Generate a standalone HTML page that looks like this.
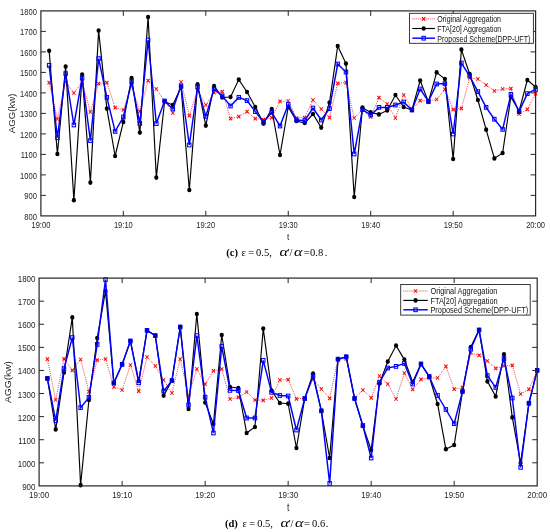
<!DOCTYPE html>
<html><head><meta charset="utf-8"><title>Aggregation comparison</title>
<style>
html,body{margin:0;padding:0;background:#fff;}
svg{display:block;font-family:"Liberation Sans",Arial,sans-serif;}
.cp{font-family:"Liberation Serif","DejaVu Serif",serif;font-size:10.5px;fill:#000;}
</style></head><body>
<svg width="550" height="532" viewBox="0 0 550 532">
<rect width="550" height="532" fill="#fff"/>
<g>
<polyline points="49.14,82.60 57.39,119.00 65.64,81.60 73.88,93.00 82.12,82.00 90.37,112.00 98.62,83.60 106.86,82.60 115.11,107.60 123.35,110.00 131.59,86.00 139.84,111.40 148.09,80.60 156.33,89.00 164.58,101.00 172.82,113.00 181.07,82.00 189.31,115.60 197.56,89.80 205.80,105.00 214.05,92.60 222.29,91.60 230.54,118.60 238.78,116.60 247.03,111.60 255.27,118.60 263.52,119.60 271.76,117.60 280.00,101.40 288.25,101.00 296.50,118.00 304.74,117.60 312.99,100.00 321.23,109.00 329.48,117.60 337.72,83.40 345.97,82.60 354.21,118.00 362.46,110.00 370.70,117.00 378.94,97.60 387.19,104.00 395.44,118.00 403.68,95.00 411.93,109.00 420.17,100.60 428.42,100.60 436.66,99.50 444.91,89.40 453.15,109.60 461.40,108.40 469.64,78.00 477.89,79.00 486.13,85.00 494.38,91.00 502.62,89.00 510.87,88.60 519.11,114.00 527.36,109.40 535.60,93.60" fill="none" stroke="#ff0000" stroke-width="0.75" stroke-dasharray="1 1"/>
<path d="M47.54 80.85L50.74 84.35M47.54 84.35L50.74 80.85" stroke="#ff0000" stroke-width="1.05" fill="none"/>
<path d="M55.79 117.25L58.99 120.75M55.79 120.75L58.99 117.25" stroke="#ff0000" stroke-width="1.05" fill="none"/>
<path d="M64.04 79.85L67.23 83.35M64.04 83.35L67.23 79.85" stroke="#ff0000" stroke-width="1.05" fill="none"/>
<path d="M72.28 91.25L75.48 94.75M72.28 94.75L75.48 91.25" stroke="#ff0000" stroke-width="1.05" fill="none"/>
<path d="M80.53 80.25L83.72 83.75M80.53 83.75L83.72 80.25" stroke="#ff0000" stroke-width="1.05" fill="none"/>
<path d="M88.77 110.25L91.97 113.75M88.77 113.75L91.97 110.25" stroke="#ff0000" stroke-width="1.05" fill="none"/>
<path d="M97.02 81.85L100.22 85.35M97.02 85.35L100.22 81.85" stroke="#ff0000" stroke-width="1.05" fill="none"/>
<path d="M105.26 80.85L108.46 84.35M105.26 84.35L108.46 80.85" stroke="#ff0000" stroke-width="1.05" fill="none"/>
<path d="M113.51 105.85L116.71 109.35M113.51 109.35L116.71 105.85" stroke="#ff0000" stroke-width="1.05" fill="none"/>
<path d="M121.75 108.25L124.95 111.75M121.75 111.75L124.95 108.25" stroke="#ff0000" stroke-width="1.05" fill="none"/>
<path d="M130.00 84.25L133.19 87.75M130.00 87.75L133.19 84.25" stroke="#ff0000" stroke-width="1.05" fill="none"/>
<path d="M138.24 109.65L141.44 113.15M138.24 113.15L141.44 109.65" stroke="#ff0000" stroke-width="1.05" fill="none"/>
<path d="M146.49 78.85L149.69 82.35M146.49 82.35L149.69 78.85" stroke="#ff0000" stroke-width="1.05" fill="none"/>
<path d="M154.73 87.25L157.93 90.75M154.73 90.75L157.93 87.25" stroke="#ff0000" stroke-width="1.05" fill="none"/>
<path d="M162.98 99.25L166.18 102.75M162.98 102.75L166.18 99.25" stroke="#ff0000" stroke-width="1.05" fill="none"/>
<path d="M171.22 111.25L174.42 114.75M171.22 114.75L174.42 111.25" stroke="#ff0000" stroke-width="1.05" fill="none"/>
<path d="M179.47 80.25L182.67 83.75M179.47 83.75L182.67 80.25" stroke="#ff0000" stroke-width="1.05" fill="none"/>
<path d="M187.71 113.85L190.91 117.35M187.71 117.35L190.91 113.85" stroke="#ff0000" stroke-width="1.05" fill="none"/>
<path d="M195.96 88.05L199.16 91.55M195.96 91.55L199.16 88.05" stroke="#ff0000" stroke-width="1.05" fill="none"/>
<path d="M204.20 103.25L207.40 106.75M204.20 106.75L207.40 103.25" stroke="#ff0000" stroke-width="1.05" fill="none"/>
<path d="M212.45 90.85L215.65 94.35M212.45 94.35L215.65 90.85" stroke="#ff0000" stroke-width="1.05" fill="none"/>
<path d="M220.69 89.85L223.89 93.35M220.69 93.35L223.89 89.85" stroke="#ff0000" stroke-width="1.05" fill="none"/>
<path d="M228.94 116.85L232.14 120.35M228.94 120.35L232.14 116.85" stroke="#ff0000" stroke-width="1.05" fill="none"/>
<path d="M237.18 114.85L240.38 118.35M237.18 118.35L240.38 114.85" stroke="#ff0000" stroke-width="1.05" fill="none"/>
<path d="M245.43 109.85L248.63 113.35M245.43 113.35L248.63 109.85" stroke="#ff0000" stroke-width="1.05" fill="none"/>
<path d="M253.67 116.85L256.87 120.35M253.67 120.35L256.87 116.85" stroke="#ff0000" stroke-width="1.05" fill="none"/>
<path d="M261.92 117.85L265.12 121.35M261.92 121.35L265.12 117.85" stroke="#ff0000" stroke-width="1.05" fill="none"/>
<path d="M270.16 115.85L273.36 119.35M270.16 119.35L273.36 115.85" stroke="#ff0000" stroke-width="1.05" fill="none"/>
<path d="M278.40 99.65L281.61 103.15M278.40 103.15L281.61 99.65" stroke="#ff0000" stroke-width="1.05" fill="none"/>
<path d="M286.65 99.25L289.85 102.75M286.65 102.75L289.85 99.25" stroke="#ff0000" stroke-width="1.05" fill="none"/>
<path d="M294.89 116.25L298.10 119.75M294.89 119.75L298.10 116.25" stroke="#ff0000" stroke-width="1.05" fill="none"/>
<path d="M303.14 115.85L306.34 119.35M303.14 119.35L306.34 115.85" stroke="#ff0000" stroke-width="1.05" fill="none"/>
<path d="M311.38 98.25L314.59 101.75M311.38 101.75L314.59 98.25" stroke="#ff0000" stroke-width="1.05" fill="none"/>
<path d="M319.63 107.25L322.83 110.75M319.63 110.75L322.83 107.25" stroke="#ff0000" stroke-width="1.05" fill="none"/>
<path d="M327.88 115.85L331.08 119.35M327.88 119.35L331.08 115.85" stroke="#ff0000" stroke-width="1.05" fill="none"/>
<path d="M336.12 81.65L339.32 85.15M336.12 85.15L339.32 81.65" stroke="#ff0000" stroke-width="1.05" fill="none"/>
<path d="M344.37 80.85L347.57 84.35M344.37 84.35L347.57 80.85" stroke="#ff0000" stroke-width="1.05" fill="none"/>
<path d="M352.61 116.25L355.81 119.75M352.61 119.75L355.81 116.25" stroke="#ff0000" stroke-width="1.05" fill="none"/>
<path d="M360.86 108.25L364.06 111.75M360.86 111.75L364.06 108.25" stroke="#ff0000" stroke-width="1.05" fill="none"/>
<path d="M369.10 115.25L372.30 118.75M369.10 118.75L372.30 115.25" stroke="#ff0000" stroke-width="1.05" fill="none"/>
<path d="M377.34 95.85L380.55 99.35M377.34 99.35L380.55 95.85" stroke="#ff0000" stroke-width="1.05" fill="none"/>
<path d="M385.59 102.25L388.79 105.75M385.59 105.75L388.79 102.25" stroke="#ff0000" stroke-width="1.05" fill="none"/>
<path d="M393.83 116.25L397.04 119.75M393.83 119.75L397.04 116.25" stroke="#ff0000" stroke-width="1.05" fill="none"/>
<path d="M402.08 93.25L405.28 96.75M402.08 96.75L405.28 93.25" stroke="#ff0000" stroke-width="1.05" fill="none"/>
<path d="M410.32 107.25L413.53 110.75M410.32 110.75L413.53 107.25" stroke="#ff0000" stroke-width="1.05" fill="none"/>
<path d="M418.57 98.85L421.77 102.35M418.57 102.35L421.77 98.85" stroke="#ff0000" stroke-width="1.05" fill="none"/>
<path d="M426.81 98.85L430.02 102.35M426.81 102.35L430.02 98.85" stroke="#ff0000" stroke-width="1.05" fill="none"/>
<path d="M435.06 97.75L438.26 101.25M435.06 101.25L438.26 97.75" stroke="#ff0000" stroke-width="1.05" fill="none"/>
<path d="M443.31 87.65L446.51 91.15M443.31 91.15L446.51 87.65" stroke="#ff0000" stroke-width="1.05" fill="none"/>
<path d="M451.55 107.85L454.75 111.35M451.55 111.35L454.75 107.85" stroke="#ff0000" stroke-width="1.05" fill="none"/>
<path d="M459.80 106.65L463.00 110.15M459.80 110.15L463.00 106.65" stroke="#ff0000" stroke-width="1.05" fill="none"/>
<path d="M468.04 76.25L471.24 79.75M468.04 79.75L471.24 76.25" stroke="#ff0000" stroke-width="1.05" fill="none"/>
<path d="M476.29 77.25L479.49 80.75M476.29 80.75L479.49 77.25" stroke="#ff0000" stroke-width="1.05" fill="none"/>
<path d="M484.53 83.25L487.73 86.75M484.53 86.75L487.73 83.25" stroke="#ff0000" stroke-width="1.05" fill="none"/>
<path d="M492.78 89.25L495.98 92.75M492.78 92.75L495.98 89.25" stroke="#ff0000" stroke-width="1.05" fill="none"/>
<path d="M501.02 87.25L504.22 90.75M501.02 90.75L504.22 87.25" stroke="#ff0000" stroke-width="1.05" fill="none"/>
<path d="M509.26 86.85L512.47 90.35M509.26 90.35L512.47 86.85" stroke="#ff0000" stroke-width="1.05" fill="none"/>
<path d="M517.51 112.25L520.71 115.75M517.51 115.75L520.71 112.25" stroke="#ff0000" stroke-width="1.05" fill="none"/>
<path d="M525.75 107.65L528.96 111.15M525.75 111.15L528.96 107.65" stroke="#ff0000" stroke-width="1.05" fill="none"/>
<path d="M534.00 91.85L537.20 95.35M534.00 95.35L537.20 91.85" stroke="#ff0000" stroke-width="1.05" fill="none"/>
<polyline points="49.14,50.80 57.39,154.00 65.64,66.60 73.88,200.20 82.12,74.60 90.37,182.60 98.62,30.60 106.86,108.60 115.11,156.00 123.35,122.00 131.59,78.20 139.84,132.60 148.09,17.00 156.33,177.60 164.58,101.50 172.82,105.00 181.07,87.00 189.31,190.00 197.56,84.40 205.80,125.60 214.05,86.00 222.29,97.40 230.54,97.00 238.78,79.60 247.03,92.00 255.27,107.00 263.52,123.60 271.76,109.00 280.00,155.00 288.25,107.00 296.50,121.00 304.74,123.00 312.99,114.00 321.23,127.60 329.48,102.60 337.72,46.00 345.97,63.60 354.21,197.00 362.46,107.60 370.70,112.40 378.94,114.40 387.19,110.40 395.44,95.00 403.68,107.00 411.93,110.00 420.17,80.60 428.42,102.00 436.66,72.40 444.91,79.00 453.15,159.00 461.40,49.60 469.64,74.00 477.89,100.00 486.13,129.70 494.38,158.40 502.62,153.00 510.87,97.00 519.11,111.00 527.36,80.00 535.60,87.00" fill="none" stroke="#000" stroke-width="1.15"/>
<ellipse cx="49.14" cy="50.80" rx="2.1" ry="2.35" fill="#000"/>
<ellipse cx="57.39" cy="154.00" rx="2.1" ry="2.35" fill="#000"/>
<ellipse cx="65.64" cy="66.60" rx="2.1" ry="2.35" fill="#000"/>
<ellipse cx="73.88" cy="200.20" rx="2.1" ry="2.35" fill="#000"/>
<ellipse cx="82.12" cy="74.60" rx="2.1" ry="2.35" fill="#000"/>
<ellipse cx="90.37" cy="182.60" rx="2.1" ry="2.35" fill="#000"/>
<ellipse cx="98.62" cy="30.60" rx="2.1" ry="2.35" fill="#000"/>
<ellipse cx="106.86" cy="108.60" rx="2.1" ry="2.35" fill="#000"/>
<ellipse cx="115.11" cy="156.00" rx="2.1" ry="2.35" fill="#000"/>
<ellipse cx="123.35" cy="122.00" rx="2.1" ry="2.35" fill="#000"/>
<ellipse cx="131.59" cy="78.20" rx="2.1" ry="2.35" fill="#000"/>
<ellipse cx="139.84" cy="132.60" rx="2.1" ry="2.35" fill="#000"/>
<ellipse cx="148.09" cy="17.00" rx="2.1" ry="2.35" fill="#000"/>
<ellipse cx="156.33" cy="177.60" rx="2.1" ry="2.35" fill="#000"/>
<ellipse cx="164.58" cy="101.50" rx="2.1" ry="2.35" fill="#000"/>
<ellipse cx="172.82" cy="105.00" rx="2.1" ry="2.35" fill="#000"/>
<ellipse cx="181.07" cy="87.00" rx="2.1" ry="2.35" fill="#000"/>
<ellipse cx="189.31" cy="190.00" rx="2.1" ry="2.35" fill="#000"/>
<ellipse cx="197.56" cy="84.40" rx="2.1" ry="2.35" fill="#000"/>
<ellipse cx="205.80" cy="125.60" rx="2.1" ry="2.35" fill="#000"/>
<ellipse cx="214.05" cy="86.00" rx="2.1" ry="2.35" fill="#000"/>
<ellipse cx="222.29" cy="97.40" rx="2.1" ry="2.35" fill="#000"/>
<ellipse cx="230.54" cy="97.00" rx="2.1" ry="2.35" fill="#000"/>
<ellipse cx="238.78" cy="79.60" rx="2.1" ry="2.35" fill="#000"/>
<ellipse cx="247.03" cy="92.00" rx="2.1" ry="2.35" fill="#000"/>
<ellipse cx="255.27" cy="107.00" rx="2.1" ry="2.35" fill="#000"/>
<ellipse cx="263.52" cy="123.60" rx="2.1" ry="2.35" fill="#000"/>
<ellipse cx="271.76" cy="109.00" rx="2.1" ry="2.35" fill="#000"/>
<ellipse cx="280.00" cy="155.00" rx="2.1" ry="2.35" fill="#000"/>
<ellipse cx="288.25" cy="107.00" rx="2.1" ry="2.35" fill="#000"/>
<ellipse cx="296.50" cy="121.00" rx="2.1" ry="2.35" fill="#000"/>
<ellipse cx="304.74" cy="123.00" rx="2.1" ry="2.35" fill="#000"/>
<ellipse cx="312.99" cy="114.00" rx="2.1" ry="2.35" fill="#000"/>
<ellipse cx="321.23" cy="127.60" rx="2.1" ry="2.35" fill="#000"/>
<ellipse cx="329.48" cy="102.60" rx="2.1" ry="2.35" fill="#000"/>
<ellipse cx="337.72" cy="46.00" rx="2.1" ry="2.35" fill="#000"/>
<ellipse cx="345.97" cy="63.60" rx="2.1" ry="2.35" fill="#000"/>
<ellipse cx="354.21" cy="197.00" rx="2.1" ry="2.35" fill="#000"/>
<ellipse cx="362.46" cy="107.60" rx="2.1" ry="2.35" fill="#000"/>
<ellipse cx="370.70" cy="112.40" rx="2.1" ry="2.35" fill="#000"/>
<ellipse cx="378.94" cy="114.40" rx="2.1" ry="2.35" fill="#000"/>
<ellipse cx="387.19" cy="110.40" rx="2.1" ry="2.35" fill="#000"/>
<ellipse cx="395.44" cy="95.00" rx="2.1" ry="2.35" fill="#000"/>
<ellipse cx="403.68" cy="107.00" rx="2.1" ry="2.35" fill="#000"/>
<ellipse cx="411.93" cy="110.00" rx="2.1" ry="2.35" fill="#000"/>
<ellipse cx="420.17" cy="80.60" rx="2.1" ry="2.35" fill="#000"/>
<ellipse cx="428.42" cy="102.00" rx="2.1" ry="2.35" fill="#000"/>
<ellipse cx="436.66" cy="72.40" rx="2.1" ry="2.35" fill="#000"/>
<ellipse cx="444.91" cy="79.00" rx="2.1" ry="2.35" fill="#000"/>
<ellipse cx="453.15" cy="159.00" rx="2.1" ry="2.35" fill="#000"/>
<ellipse cx="461.40" cy="49.60" rx="2.1" ry="2.35" fill="#000"/>
<ellipse cx="469.64" cy="74.00" rx="2.1" ry="2.35" fill="#000"/>
<ellipse cx="477.89" cy="100.00" rx="2.1" ry="2.35" fill="#000"/>
<ellipse cx="486.13" cy="129.70" rx="2.1" ry="2.35" fill="#000"/>
<ellipse cx="494.38" cy="158.40" rx="2.1" ry="2.35" fill="#000"/>
<ellipse cx="502.62" cy="153.00" rx="2.1" ry="2.35" fill="#000"/>
<ellipse cx="510.87" cy="97.00" rx="2.1" ry="2.35" fill="#000"/>
<ellipse cx="519.11" cy="111.00" rx="2.1" ry="2.35" fill="#000"/>
<ellipse cx="527.36" cy="80.00" rx="2.1" ry="2.35" fill="#000"/>
<ellipse cx="535.60" cy="87.00" rx="2.1" ry="2.35" fill="#000"/>
<polyline points="49.14,65.40 57.39,137.60 65.64,73.60 73.88,125.00 82.12,78.00 90.37,140.60 98.62,58.60 106.86,97.40 115.11,131.40 123.35,117.00 131.59,81.60 139.84,123.40 148.09,40.00 156.33,123.60 164.58,101.00 172.82,109.00 181.07,86.00 189.31,145.00 197.56,87.00 205.80,116.40 214.05,89.00 222.29,96.00 230.54,106.00 238.78,97.40 247.03,100.60 255.27,111.60 263.52,122.00 271.76,112.40 280.00,126.00 288.25,104.40 296.50,120.00 304.74,120.60 312.99,108.00 321.23,120.00 329.48,108.60 337.72,64.00 345.97,72.00 354.21,154.00 362.46,109.40 370.70,115.00 378.94,107.40 387.19,107.40 395.44,105.00 403.68,102.00 411.93,110.00 420.17,89.00 428.42,101.40 436.66,84.00 444.91,83.60 453.15,134.00 461.40,63.00 469.64,76.00 477.89,91.60 486.13,107.40 494.38,119.20 502.62,129.40 510.87,94.40 519.11,111.60 527.36,93.60 535.60,89.40" fill="none" stroke="#0000ff" stroke-width="1.45"/>
<rect x="47.44" y="63.55" width="3.40" height="3.70" fill="none" stroke="#0000ff" stroke-width="1.05"/>
<rect x="55.69" y="135.75" width="3.40" height="3.70" fill="none" stroke="#0000ff" stroke-width="1.05"/>
<rect x="63.94" y="71.75" width="3.40" height="3.70" fill="none" stroke="#0000ff" stroke-width="1.05"/>
<rect x="72.18" y="123.15" width="3.40" height="3.70" fill="none" stroke="#0000ff" stroke-width="1.05"/>
<rect x="80.42" y="76.15" width="3.40" height="3.70" fill="none" stroke="#0000ff" stroke-width="1.05"/>
<rect x="88.67" y="138.75" width="3.40" height="3.70" fill="none" stroke="#0000ff" stroke-width="1.05"/>
<rect x="96.92" y="56.75" width="3.40" height="3.70" fill="none" stroke="#0000ff" stroke-width="1.05"/>
<rect x="105.16" y="95.55" width="3.40" height="3.70" fill="none" stroke="#0000ff" stroke-width="1.05"/>
<rect x="113.41" y="129.55" width="3.40" height="3.70" fill="none" stroke="#0000ff" stroke-width="1.05"/>
<rect x="121.65" y="115.15" width="3.40" height="3.70" fill="none" stroke="#0000ff" stroke-width="1.05"/>
<rect x="129.90" y="79.75" width="3.40" height="3.70" fill="none" stroke="#0000ff" stroke-width="1.05"/>
<rect x="138.14" y="121.55" width="3.40" height="3.70" fill="none" stroke="#0000ff" stroke-width="1.05"/>
<rect x="146.39" y="38.15" width="3.40" height="3.70" fill="none" stroke="#0000ff" stroke-width="1.05"/>
<rect x="154.63" y="121.75" width="3.40" height="3.70" fill="none" stroke="#0000ff" stroke-width="1.05"/>
<rect x="162.88" y="99.15" width="3.40" height="3.70" fill="none" stroke="#0000ff" stroke-width="1.05"/>
<rect x="171.12" y="107.15" width="3.40" height="3.70" fill="none" stroke="#0000ff" stroke-width="1.05"/>
<rect x="179.37" y="84.15" width="3.40" height="3.70" fill="none" stroke="#0000ff" stroke-width="1.05"/>
<rect x="187.61" y="143.15" width="3.40" height="3.70" fill="none" stroke="#0000ff" stroke-width="1.05"/>
<rect x="195.86" y="85.15" width="3.40" height="3.70" fill="none" stroke="#0000ff" stroke-width="1.05"/>
<rect x="204.10" y="114.55" width="3.40" height="3.70" fill="none" stroke="#0000ff" stroke-width="1.05"/>
<rect x="212.35" y="87.15" width="3.40" height="3.70" fill="none" stroke="#0000ff" stroke-width="1.05"/>
<rect x="220.59" y="94.15" width="3.40" height="3.70" fill="none" stroke="#0000ff" stroke-width="1.05"/>
<rect x="228.84" y="104.15" width="3.40" height="3.70" fill="none" stroke="#0000ff" stroke-width="1.05"/>
<rect x="237.08" y="95.55" width="3.40" height="3.70" fill="none" stroke="#0000ff" stroke-width="1.05"/>
<rect x="245.33" y="98.75" width="3.40" height="3.70" fill="none" stroke="#0000ff" stroke-width="1.05"/>
<rect x="253.57" y="109.75" width="3.40" height="3.70" fill="none" stroke="#0000ff" stroke-width="1.05"/>
<rect x="261.82" y="120.15" width="3.40" height="3.70" fill="none" stroke="#0000ff" stroke-width="1.05"/>
<rect x="270.06" y="110.55" width="3.40" height="3.70" fill="none" stroke="#0000ff" stroke-width="1.05"/>
<rect x="278.31" y="124.15" width="3.40" height="3.70" fill="none" stroke="#0000ff" stroke-width="1.05"/>
<rect x="286.55" y="102.55" width="3.40" height="3.70" fill="none" stroke="#0000ff" stroke-width="1.05"/>
<rect x="294.80" y="118.15" width="3.40" height="3.70" fill="none" stroke="#0000ff" stroke-width="1.05"/>
<rect x="303.04" y="118.75" width="3.40" height="3.70" fill="none" stroke="#0000ff" stroke-width="1.05"/>
<rect x="311.29" y="106.15" width="3.40" height="3.70" fill="none" stroke="#0000ff" stroke-width="1.05"/>
<rect x="319.53" y="118.15" width="3.40" height="3.70" fill="none" stroke="#0000ff" stroke-width="1.05"/>
<rect x="327.78" y="106.75" width="3.40" height="3.70" fill="none" stroke="#0000ff" stroke-width="1.05"/>
<rect x="336.02" y="62.15" width="3.40" height="3.70" fill="none" stroke="#0000ff" stroke-width="1.05"/>
<rect x="344.27" y="70.15" width="3.40" height="3.70" fill="none" stroke="#0000ff" stroke-width="1.05"/>
<rect x="352.51" y="152.15" width="3.40" height="3.70" fill="none" stroke="#0000ff" stroke-width="1.05"/>
<rect x="360.76" y="107.55" width="3.40" height="3.70" fill="none" stroke="#0000ff" stroke-width="1.05"/>
<rect x="369.00" y="113.15" width="3.40" height="3.70" fill="none" stroke="#0000ff" stroke-width="1.05"/>
<rect x="377.25" y="105.55" width="3.40" height="3.70" fill="none" stroke="#0000ff" stroke-width="1.05"/>
<rect x="385.49" y="105.55" width="3.40" height="3.70" fill="none" stroke="#0000ff" stroke-width="1.05"/>
<rect x="393.74" y="103.15" width="3.40" height="3.70" fill="none" stroke="#0000ff" stroke-width="1.05"/>
<rect x="401.98" y="100.15" width="3.40" height="3.70" fill="none" stroke="#0000ff" stroke-width="1.05"/>
<rect x="410.23" y="108.15" width="3.40" height="3.70" fill="none" stroke="#0000ff" stroke-width="1.05"/>
<rect x="418.47" y="87.15" width="3.40" height="3.70" fill="none" stroke="#0000ff" stroke-width="1.05"/>
<rect x="426.72" y="99.55" width="3.40" height="3.70" fill="none" stroke="#0000ff" stroke-width="1.05"/>
<rect x="434.96" y="82.15" width="3.40" height="3.70" fill="none" stroke="#0000ff" stroke-width="1.05"/>
<rect x="443.21" y="81.75" width="3.40" height="3.70" fill="none" stroke="#0000ff" stroke-width="1.05"/>
<rect x="451.45" y="132.15" width="3.40" height="3.70" fill="none" stroke="#0000ff" stroke-width="1.05"/>
<rect x="459.70" y="61.15" width="3.40" height="3.70" fill="none" stroke="#0000ff" stroke-width="1.05"/>
<rect x="467.94" y="74.15" width="3.40" height="3.70" fill="none" stroke="#0000ff" stroke-width="1.05"/>
<rect x="476.19" y="89.75" width="3.40" height="3.70" fill="none" stroke="#0000ff" stroke-width="1.05"/>
<rect x="484.43" y="105.55" width="3.40" height="3.70" fill="none" stroke="#0000ff" stroke-width="1.05"/>
<rect x="492.68" y="117.35" width="3.40" height="3.70" fill="none" stroke="#0000ff" stroke-width="1.05"/>
<rect x="500.92" y="127.55" width="3.40" height="3.70" fill="none" stroke="#0000ff" stroke-width="1.05"/>
<rect x="509.17" y="92.55" width="3.40" height="3.70" fill="none" stroke="#0000ff" stroke-width="1.05"/>
<rect x="517.41" y="109.75" width="3.40" height="3.70" fill="none" stroke="#0000ff" stroke-width="1.05"/>
<rect x="525.65" y="91.75" width="3.40" height="3.70" fill="none" stroke="#0000ff" stroke-width="1.05"/>
<rect x="533.90" y="87.55" width="3.40" height="3.70" fill="none" stroke="#0000ff" stroke-width="1.05"/>
</g>
<rect x="40.9" y="10.9" width="494.70" height="205.00" fill="none" stroke="#262626" stroke-width="1.2"/>
<text transform="translate(36.90 14.70) scale(0.86 1)" text-anchor="end" font-size="8.8" fill="#262626">1800</text>
<path d="M40.9 31.40h5M535.6 31.40h-5" stroke="#262626" stroke-width="1"/>
<text transform="translate(36.90 35.20) scale(0.86 1)" text-anchor="end" font-size="8.8" fill="#262626">1700</text>
<path d="M40.9 51.90h5M535.6 51.90h-5" stroke="#262626" stroke-width="1"/>
<text transform="translate(36.90 55.70) scale(0.86 1)" text-anchor="end" font-size="8.8" fill="#262626">1600</text>
<path d="M40.9 72.40h5M535.6 72.40h-5" stroke="#262626" stroke-width="1"/>
<text transform="translate(36.90 76.20) scale(0.86 1)" text-anchor="end" font-size="8.8" fill="#262626">1500</text>
<path d="M40.9 92.90h5M535.6 92.90h-5" stroke="#262626" stroke-width="1"/>
<text transform="translate(36.90 96.70) scale(0.86 1)" text-anchor="end" font-size="8.8" fill="#262626">1400</text>
<path d="M40.9 113.40h5M535.6 113.40h-5" stroke="#262626" stroke-width="1"/>
<text transform="translate(36.90 117.20) scale(0.86 1)" text-anchor="end" font-size="8.8" fill="#262626">1300</text>
<path d="M40.9 133.90h5M535.6 133.90h-5" stroke="#262626" stroke-width="1"/>
<text transform="translate(36.90 137.70) scale(0.86 1)" text-anchor="end" font-size="8.8" fill="#262626">1200</text>
<path d="M40.9 154.40h5M535.6 154.40h-5" stroke="#262626" stroke-width="1"/>
<text transform="translate(36.90 158.20) scale(0.86 1)" text-anchor="end" font-size="8.8" fill="#262626">1100</text>
<path d="M40.9 174.90h5M535.6 174.90h-5" stroke="#262626" stroke-width="1"/>
<text transform="translate(36.90 178.70) scale(0.86 1)" text-anchor="end" font-size="8.8" fill="#262626">1000</text>
<path d="M40.9 195.40h5M535.6 195.40h-5" stroke="#262626" stroke-width="1"/>
<text transform="translate(36.90 199.20) scale(0.86 1)" text-anchor="end" font-size="8.8" fill="#262626">900</text>
<text transform="translate(36.90 219.70) scale(0.86 1)" text-anchor="end" font-size="8.8" fill="#262626">800</text>
<text transform="translate(40.90 228.30) scale(0.86 1)" text-anchor="middle" font-size="8.8" fill="#262626">19:00</text>
<path d="M123.35 215.9v-5M123.35 10.9v5" stroke="#262626" stroke-width="1"/>
<text transform="translate(123.35 228.30) scale(0.86 1)" text-anchor="middle" font-size="8.8" fill="#262626">19:10</text>
<path d="M205.80 215.9v-5M205.80 10.9v5" stroke="#262626" stroke-width="1"/>
<text transform="translate(205.80 228.30) scale(0.86 1)" text-anchor="middle" font-size="8.8" fill="#262626">19:20</text>
<path d="M288.25 215.9v-5M288.25 10.9v5" stroke="#262626" stroke-width="1"/>
<text transform="translate(288.25 228.30) scale(0.86 1)" text-anchor="middle" font-size="8.8" fill="#262626">19:30</text>
<path d="M370.70 215.9v-5M370.70 10.9v5" stroke="#262626" stroke-width="1"/>
<text transform="translate(370.70 228.30) scale(0.86 1)" text-anchor="middle" font-size="8.8" fill="#262626">19:40</text>
<path d="M453.15 215.9v-5M453.15 10.9v5" stroke="#262626" stroke-width="1"/>
<text transform="translate(453.15 228.30) scale(0.86 1)" text-anchor="middle" font-size="8.8" fill="#262626">19:50</text>
<text transform="translate(535.60 228.30) scale(0.86 1)" text-anchor="middle" font-size="8.8" fill="#262626">20:00</text>
<text transform="translate(288.25 240.40) scale(0.86 1)" text-anchor="middle" font-size="9.7" fill="#262626">t</text>
<text transform="translate(14.6 113.40) scale(0.86 1) rotate(-90)" text-anchor="middle" font-size="9.7" fill="#262626">AGG(kw)</text>
<rect x="409.5" y="13.30" width="123.90" height="30.00" fill="#fff" stroke="#262626" stroke-width="0.9"/>
<path d="M412.3 18.9H435.0" fill="none" stroke="#ff0000" stroke-width="0.75" stroke-dasharray="1 1"/>
<path d="M422.05 17.15L425.25 20.65M422.05 20.65L425.25 17.15" stroke="#ff0000" stroke-width="1.05" fill="none"/>
<text transform="translate(437.30 22.30) scale(0.86 1)" text-anchor="start" font-size="8.2" fill="#111">Original Aggregation</text>
<path d="M412.3 28.5H435.0" fill="none" stroke="#000" stroke-width="1.15"/>
<ellipse cx="423.65" cy="28.50" rx="2.1" ry="2.35" fill="#000"/>
<text transform="translate(437.30 31.90) scale(0.86 1)" text-anchor="start" font-size="8.2" fill="#111">FTA[20] Aggregation</text>
<path d="M412.3 38.2H435.0" fill="none" stroke="#0000ff" stroke-width="1.45"/>
<rect x="421.95" y="36.35" width="3.40" height="3.70" fill="none" stroke="#0000ff" stroke-width="1.05"/>
<text transform="translate(437.30 41.60) scale(0.86 1)" text-anchor="start" font-size="8.2" fill="#111">Proposed Scheme(DPP-UFT)</text>
<g>
<polyline points="47.40,359.20 55.70,400.00 64.00,358.80 72.31,370.40 80.61,359.50 88.91,391.60 97.21,360.20 105.51,359.00 113.81,387.00 122.12,390.00 130.42,365.00 138.72,391.20 147.02,357.00 155.32,366.00 163.63,380.00 171.93,393.00 180.23,359.00 188.53,396.00 196.83,369.00 205.13,384.20 213.44,370.80 221.74,369.00 230.04,399.00 238.34,397.40 246.64,392.00 254.94,400.00 263.25,400.30 271.55,398.00 279.85,380.00 288.15,379.60 296.45,398.80 304.75,398.40 313.06,379.00 321.36,389.00 329.66,398.30 337.96,359.00 346.26,358.80 354.56,398.00 362.87,390.00 371.17,397.80 379.47,376.00 387.77,384.00 396.07,399.00 404.37,373.00 412.68,389.40 420.98,379.40 429.28,378.00 437.58,378.00 445.88,366.40 454.18,389.20 462.49,387.40 470.79,353.00 479.09,355.40 487.39,361.00 495.69,368.40 503.99,366.00 512.30,365.40 520.60,394.00 528.90,389.40 537.20,370.40" fill="none" stroke="#ff0000" stroke-width="0.75" stroke-dasharray="1 1"/>
<path d="M45.80 357.45L49.00 360.95M45.80 360.95L49.00 357.45" stroke="#ff0000" stroke-width="1.05" fill="none"/>
<path d="M54.10 398.25L57.30 401.75M54.10 401.75L57.30 398.25" stroke="#ff0000" stroke-width="1.05" fill="none"/>
<path d="M62.40 357.05L65.60 360.55M62.40 360.55L65.60 357.05" stroke="#ff0000" stroke-width="1.05" fill="none"/>
<path d="M70.71 368.65L73.91 372.15M70.71 372.15L73.91 368.65" stroke="#ff0000" stroke-width="1.05" fill="none"/>
<path d="M79.01 357.75L82.21 361.25M79.01 361.25L82.21 357.75" stroke="#ff0000" stroke-width="1.05" fill="none"/>
<path d="M87.31 389.85L90.51 393.35M87.31 393.35L90.51 389.85" stroke="#ff0000" stroke-width="1.05" fill="none"/>
<path d="M95.61 358.45L98.81 361.95M95.61 361.95L98.81 358.45" stroke="#ff0000" stroke-width="1.05" fill="none"/>
<path d="M103.91 357.25L107.11 360.75M103.91 360.75L107.11 357.25" stroke="#ff0000" stroke-width="1.05" fill="none"/>
<path d="M112.22 385.25L115.41 388.75M112.22 388.75L115.41 385.25" stroke="#ff0000" stroke-width="1.05" fill="none"/>
<path d="M120.52 388.25L123.72 391.75M120.52 391.75L123.72 388.25" stroke="#ff0000" stroke-width="1.05" fill="none"/>
<path d="M128.82 363.25L132.02 366.75M128.82 366.75L132.02 363.25" stroke="#ff0000" stroke-width="1.05" fill="none"/>
<path d="M137.12 389.45L140.32 392.95M137.12 392.95L140.32 389.45" stroke="#ff0000" stroke-width="1.05" fill="none"/>
<path d="M145.42 355.25L148.62 358.75M145.42 358.75L148.62 355.25" stroke="#ff0000" stroke-width="1.05" fill="none"/>
<path d="M153.72 364.25L156.92 367.75M153.72 367.75L156.92 364.25" stroke="#ff0000" stroke-width="1.05" fill="none"/>
<path d="M162.03 378.25L165.23 381.75M162.03 381.75L165.23 378.25" stroke="#ff0000" stroke-width="1.05" fill="none"/>
<path d="M170.33 391.25L173.53 394.75M170.33 394.75L173.53 391.25" stroke="#ff0000" stroke-width="1.05" fill="none"/>
<path d="M178.63 357.25L181.83 360.75M178.63 360.75L181.83 357.25" stroke="#ff0000" stroke-width="1.05" fill="none"/>
<path d="M186.93 394.25L190.13 397.75M186.93 397.75L190.13 394.25" stroke="#ff0000" stroke-width="1.05" fill="none"/>
<path d="M195.23 367.25L198.43 370.75M195.23 370.75L198.43 367.25" stroke="#ff0000" stroke-width="1.05" fill="none"/>
<path d="M203.53 382.45L206.73 385.95M203.53 385.95L206.73 382.45" stroke="#ff0000" stroke-width="1.05" fill="none"/>
<path d="M211.84 369.05L215.03 372.55M211.84 372.55L215.03 369.05" stroke="#ff0000" stroke-width="1.05" fill="none"/>
<path d="M220.14 367.25L223.34 370.75M220.14 370.75L223.34 367.25" stroke="#ff0000" stroke-width="1.05" fill="none"/>
<path d="M228.44 397.25L231.64 400.75M228.44 400.75L231.64 397.25" stroke="#ff0000" stroke-width="1.05" fill="none"/>
<path d="M236.74 395.65L239.94 399.15M236.74 399.15L239.94 395.65" stroke="#ff0000" stroke-width="1.05" fill="none"/>
<path d="M245.04 390.25L248.24 393.75M245.04 393.75L248.24 390.25" stroke="#ff0000" stroke-width="1.05" fill="none"/>
<path d="M253.34 398.25L256.54 401.75M253.34 401.75L256.54 398.25" stroke="#ff0000" stroke-width="1.05" fill="none"/>
<path d="M261.65 398.55L264.85 402.05M261.65 402.05L264.85 398.55" stroke="#ff0000" stroke-width="1.05" fill="none"/>
<path d="M269.95 396.25L273.15 399.75M269.95 399.75L273.15 396.25" stroke="#ff0000" stroke-width="1.05" fill="none"/>
<path d="M278.25 378.25L281.45 381.75M278.25 381.75L281.45 378.25" stroke="#ff0000" stroke-width="1.05" fill="none"/>
<path d="M286.55 377.85L289.75 381.35M286.55 381.35L289.75 377.85" stroke="#ff0000" stroke-width="1.05" fill="none"/>
<path d="M294.85 397.05L298.05 400.55M294.85 400.55L298.05 397.05" stroke="#ff0000" stroke-width="1.05" fill="none"/>
<path d="M303.15 396.65L306.35 400.15M303.15 400.15L306.35 396.65" stroke="#ff0000" stroke-width="1.05" fill="none"/>
<path d="M311.46 377.25L314.66 380.75M311.46 380.75L314.66 377.25" stroke="#ff0000" stroke-width="1.05" fill="none"/>
<path d="M319.76 387.25L322.96 390.75M319.76 390.75L322.96 387.25" stroke="#ff0000" stroke-width="1.05" fill="none"/>
<path d="M328.06 396.55L331.26 400.05M328.06 400.05L331.26 396.55" stroke="#ff0000" stroke-width="1.05" fill="none"/>
<path d="M336.36 357.25L339.56 360.75M336.36 360.75L339.56 357.25" stroke="#ff0000" stroke-width="1.05" fill="none"/>
<path d="M344.66 357.05L347.86 360.55M344.66 360.55L347.86 357.05" stroke="#ff0000" stroke-width="1.05" fill="none"/>
<path d="M352.96 396.25L356.16 399.75M352.96 399.75L356.16 396.25" stroke="#ff0000" stroke-width="1.05" fill="none"/>
<path d="M361.27 388.25L364.47 391.75M361.27 391.75L364.47 388.25" stroke="#ff0000" stroke-width="1.05" fill="none"/>
<path d="M369.57 396.05L372.77 399.55M369.57 399.55L372.77 396.05" stroke="#ff0000" stroke-width="1.05" fill="none"/>
<path d="M377.87 374.25L381.07 377.75M377.87 377.75L381.07 374.25" stroke="#ff0000" stroke-width="1.05" fill="none"/>
<path d="M386.17 382.25L389.37 385.75M386.17 385.75L389.37 382.25" stroke="#ff0000" stroke-width="1.05" fill="none"/>
<path d="M394.47 397.25L397.67 400.75M394.47 400.75L397.67 397.25" stroke="#ff0000" stroke-width="1.05" fill="none"/>
<path d="M402.77 371.25L405.97 374.75M402.77 374.75L405.97 371.25" stroke="#ff0000" stroke-width="1.05" fill="none"/>
<path d="M411.08 387.65L414.28 391.15M411.08 391.15L414.28 387.65" stroke="#ff0000" stroke-width="1.05" fill="none"/>
<path d="M419.38 377.65L422.58 381.15M419.38 381.15L422.58 377.65" stroke="#ff0000" stroke-width="1.05" fill="none"/>
<path d="M427.68 376.25L430.88 379.75M427.68 379.75L430.88 376.25" stroke="#ff0000" stroke-width="1.05" fill="none"/>
<path d="M435.98 376.25L439.18 379.75M435.98 379.75L439.18 376.25" stroke="#ff0000" stroke-width="1.05" fill="none"/>
<path d="M444.28 364.65L447.48 368.15M444.28 368.15L447.48 364.65" stroke="#ff0000" stroke-width="1.05" fill="none"/>
<path d="M452.58 387.45L455.78 390.95M452.58 390.95L455.78 387.45" stroke="#ff0000" stroke-width="1.05" fill="none"/>
<path d="M460.89 385.65L464.09 389.15M460.89 389.15L464.09 385.65" stroke="#ff0000" stroke-width="1.05" fill="none"/>
<path d="M469.19 351.25L472.39 354.75M469.19 354.75L472.39 351.25" stroke="#ff0000" stroke-width="1.05" fill="none"/>
<path d="M477.49 353.65L480.69 357.15M477.49 357.15L480.69 353.65" stroke="#ff0000" stroke-width="1.05" fill="none"/>
<path d="M485.79 359.25L488.99 362.75M485.79 362.75L488.99 359.25" stroke="#ff0000" stroke-width="1.05" fill="none"/>
<path d="M494.09 366.65L497.29 370.15M494.09 370.15L497.29 366.65" stroke="#ff0000" stroke-width="1.05" fill="none"/>
<path d="M502.39 364.25L505.59 367.75M502.39 367.75L505.59 364.25" stroke="#ff0000" stroke-width="1.05" fill="none"/>
<path d="M510.70 363.65L513.90 367.15M510.70 367.15L513.90 363.65" stroke="#ff0000" stroke-width="1.05" fill="none"/>
<path d="M519.00 392.25L522.20 395.75M519.00 395.75L522.20 392.25" stroke="#ff0000" stroke-width="1.05" fill="none"/>
<path d="M527.30 387.65L530.50 391.15M527.30 391.15L530.50 387.65" stroke="#ff0000" stroke-width="1.05" fill="none"/>
<path d="M535.60 368.65L538.80 372.15M535.60 372.15L538.80 368.65" stroke="#ff0000" stroke-width="1.05" fill="none"/>
<polyline points="47.40,378.40 55.70,429.40 64.00,372.40 72.31,317.40 80.61,485.20 88.91,400.00 97.21,338.00 105.51,291.00 113.81,383.00 122.12,364.40 130.42,341.00 138.72,381.00 147.02,330.40 155.32,335.60 163.63,395.60 171.93,380.60 180.23,327.00 188.53,409.00 196.83,314.00 205.13,402.50 213.44,424.00 221.74,335.00 230.04,387.00 238.34,388.00 246.64,433.00 254.94,427.00 263.25,328.60 271.55,390.60 279.85,403.00 288.15,403.70 296.45,448.00 304.75,398.50 313.06,373.60 321.36,411.00 329.66,458.00 337.96,359.20 346.26,356.80 354.56,398.50 362.87,426.00 371.17,450.00 379.47,383.60 387.77,361.60 396.07,345.60 404.37,359.60 412.68,382.00 420.98,364.00 429.28,376.60 437.58,404.00 445.88,449.20 454.18,445.00 462.49,391.50 470.79,347.00 479.09,330.00 487.39,381.40 495.69,396.40 503.99,354.40 512.30,417.40 520.60,463.00 528.90,403.40 537.20,370.40" fill="none" stroke="#000" stroke-width="1.15"/>
<ellipse cx="47.40" cy="378.40" rx="2.1" ry="2.35" fill="#000"/>
<ellipse cx="55.70" cy="429.40" rx="2.1" ry="2.35" fill="#000"/>
<ellipse cx="64.00" cy="372.40" rx="2.1" ry="2.35" fill="#000"/>
<ellipse cx="72.31" cy="317.40" rx="2.1" ry="2.35" fill="#000"/>
<ellipse cx="80.61" cy="485.20" rx="2.1" ry="2.35" fill="#000"/>
<ellipse cx="88.91" cy="400.00" rx="2.1" ry="2.35" fill="#000"/>
<ellipse cx="97.21" cy="338.00" rx="2.1" ry="2.35" fill="#000"/>
<ellipse cx="105.51" cy="291.00" rx="2.1" ry="2.35" fill="#000"/>
<ellipse cx="113.81" cy="383.00" rx="2.1" ry="2.35" fill="#000"/>
<ellipse cx="122.12" cy="364.40" rx="2.1" ry="2.35" fill="#000"/>
<ellipse cx="130.42" cy="341.00" rx="2.1" ry="2.35" fill="#000"/>
<ellipse cx="138.72" cy="381.00" rx="2.1" ry="2.35" fill="#000"/>
<ellipse cx="147.02" cy="330.40" rx="2.1" ry="2.35" fill="#000"/>
<ellipse cx="155.32" cy="335.60" rx="2.1" ry="2.35" fill="#000"/>
<ellipse cx="163.63" cy="395.60" rx="2.1" ry="2.35" fill="#000"/>
<ellipse cx="171.93" cy="380.60" rx="2.1" ry="2.35" fill="#000"/>
<ellipse cx="180.23" cy="327.00" rx="2.1" ry="2.35" fill="#000"/>
<ellipse cx="188.53" cy="409.00" rx="2.1" ry="2.35" fill="#000"/>
<ellipse cx="196.83" cy="314.00" rx="2.1" ry="2.35" fill="#000"/>
<ellipse cx="205.13" cy="402.50" rx="2.1" ry="2.35" fill="#000"/>
<ellipse cx="213.44" cy="424.00" rx="2.1" ry="2.35" fill="#000"/>
<ellipse cx="221.74" cy="335.00" rx="2.1" ry="2.35" fill="#000"/>
<ellipse cx="230.04" cy="387.00" rx="2.1" ry="2.35" fill="#000"/>
<ellipse cx="238.34" cy="388.00" rx="2.1" ry="2.35" fill="#000"/>
<ellipse cx="246.64" cy="433.00" rx="2.1" ry="2.35" fill="#000"/>
<ellipse cx="254.94" cy="427.00" rx="2.1" ry="2.35" fill="#000"/>
<ellipse cx="263.25" cy="328.60" rx="2.1" ry="2.35" fill="#000"/>
<ellipse cx="271.55" cy="390.60" rx="2.1" ry="2.35" fill="#000"/>
<ellipse cx="279.85" cy="403.00" rx="2.1" ry="2.35" fill="#000"/>
<ellipse cx="288.15" cy="403.70" rx="2.1" ry="2.35" fill="#000"/>
<ellipse cx="296.45" cy="448.00" rx="2.1" ry="2.35" fill="#000"/>
<ellipse cx="304.75" cy="398.50" rx="2.1" ry="2.35" fill="#000"/>
<ellipse cx="313.06" cy="373.60" rx="2.1" ry="2.35" fill="#000"/>
<ellipse cx="321.36" cy="411.00" rx="2.1" ry="2.35" fill="#000"/>
<ellipse cx="329.66" cy="458.00" rx="2.1" ry="2.35" fill="#000"/>
<ellipse cx="337.96" cy="359.20" rx="2.1" ry="2.35" fill="#000"/>
<ellipse cx="346.26" cy="356.80" rx="2.1" ry="2.35" fill="#000"/>
<ellipse cx="354.56" cy="398.50" rx="2.1" ry="2.35" fill="#000"/>
<ellipse cx="362.87" cy="426.00" rx="2.1" ry="2.35" fill="#000"/>
<ellipse cx="371.17" cy="450.00" rx="2.1" ry="2.35" fill="#000"/>
<ellipse cx="379.47" cy="383.60" rx="2.1" ry="2.35" fill="#000"/>
<ellipse cx="387.77" cy="361.60" rx="2.1" ry="2.35" fill="#000"/>
<ellipse cx="396.07" cy="345.60" rx="2.1" ry="2.35" fill="#000"/>
<ellipse cx="404.37" cy="359.60" rx="2.1" ry="2.35" fill="#000"/>
<ellipse cx="412.68" cy="382.00" rx="2.1" ry="2.35" fill="#000"/>
<ellipse cx="420.98" cy="364.00" rx="2.1" ry="2.35" fill="#000"/>
<ellipse cx="429.28" cy="376.60" rx="2.1" ry="2.35" fill="#000"/>
<ellipse cx="437.58" cy="404.00" rx="2.1" ry="2.35" fill="#000"/>
<ellipse cx="445.88" cy="449.20" rx="2.1" ry="2.35" fill="#000"/>
<ellipse cx="454.18" cy="445.00" rx="2.1" ry="2.35" fill="#000"/>
<ellipse cx="462.49" cy="391.50" rx="2.1" ry="2.35" fill="#000"/>
<ellipse cx="470.79" cy="347.00" rx="2.1" ry="2.35" fill="#000"/>
<ellipse cx="479.09" cy="330.00" rx="2.1" ry="2.35" fill="#000"/>
<ellipse cx="487.39" cy="381.40" rx="2.1" ry="2.35" fill="#000"/>
<ellipse cx="495.69" cy="396.40" rx="2.1" ry="2.35" fill="#000"/>
<ellipse cx="503.99" cy="354.40" rx="2.1" ry="2.35" fill="#000"/>
<ellipse cx="512.30" cy="417.40" rx="2.1" ry="2.35" fill="#000"/>
<ellipse cx="520.60" cy="463.00" rx="2.1" ry="2.35" fill="#000"/>
<ellipse cx="528.90" cy="403.40" rx="2.1" ry="2.35" fill="#000"/>
<ellipse cx="537.20" cy="370.40" rx="2.1" ry="2.35" fill="#000"/>
<polyline points="47.40,378.40 55.70,420.60 64.00,368.60 72.31,337.60 80.61,407.60 88.91,397.40 97.21,344.40 105.51,279.60 113.81,383.00 122.12,364.40 130.42,341.00 138.72,382.80 147.02,330.40 155.32,335.60 163.63,391.00 171.93,380.60 180.23,327.00 188.53,405.00 196.83,335.60 205.13,397.20 213.44,433.00 221.74,346.40 230.04,390.40 238.34,390.50 246.64,418.00 254.94,418.00 263.25,360.40 271.55,392.30 279.85,395.50 288.15,396.00 296.45,430.00 304.75,398.50 313.06,376.00 321.36,410.80 329.66,483.40 337.96,359.20 346.26,356.80 354.56,398.50 362.87,425.50 371.17,458.00 379.47,382.40 387.77,368.00 396.07,366.40 404.37,363.40 412.68,384.00 420.98,364.00 429.28,376.60 437.58,395.50 445.88,409.50 454.18,423.60 462.49,391.50 470.79,349.00 479.09,330.00 487.39,375.60 495.69,387.40 503.99,358.60 512.30,398.00 520.60,467.40 528.90,403.20 537.20,370.40" fill="none" stroke="#0000ff" stroke-width="1.45"/>
<rect x="45.70" y="376.55" width="3.40" height="3.70" fill="none" stroke="#0000ff" stroke-width="1.05"/>
<rect x="54.00" y="418.75" width="3.40" height="3.70" fill="none" stroke="#0000ff" stroke-width="1.05"/>
<rect x="62.30" y="366.75" width="3.40" height="3.70" fill="none" stroke="#0000ff" stroke-width="1.05"/>
<rect x="70.61" y="335.75" width="3.40" height="3.70" fill="none" stroke="#0000ff" stroke-width="1.05"/>
<rect x="78.91" y="405.75" width="3.40" height="3.70" fill="none" stroke="#0000ff" stroke-width="1.05"/>
<rect x="87.21" y="395.55" width="3.40" height="3.70" fill="none" stroke="#0000ff" stroke-width="1.05"/>
<rect x="95.51" y="342.55" width="3.40" height="3.70" fill="none" stroke="#0000ff" stroke-width="1.05"/>
<rect x="103.81" y="277.75" width="3.40" height="3.70" fill="none" stroke="#0000ff" stroke-width="1.05"/>
<rect x="112.11" y="381.15" width="3.40" height="3.70" fill="none" stroke="#0000ff" stroke-width="1.05"/>
<rect x="120.42" y="362.55" width="3.40" height="3.70" fill="none" stroke="#0000ff" stroke-width="1.05"/>
<rect x="128.72" y="339.15" width="3.40" height="3.70" fill="none" stroke="#0000ff" stroke-width="1.05"/>
<rect x="137.02" y="380.95" width="3.40" height="3.70" fill="none" stroke="#0000ff" stroke-width="1.05"/>
<rect x="145.32" y="328.55" width="3.40" height="3.70" fill="none" stroke="#0000ff" stroke-width="1.05"/>
<rect x="153.62" y="333.75" width="3.40" height="3.70" fill="none" stroke="#0000ff" stroke-width="1.05"/>
<rect x="161.93" y="389.15" width="3.40" height="3.70" fill="none" stroke="#0000ff" stroke-width="1.05"/>
<rect x="170.23" y="378.75" width="3.40" height="3.70" fill="none" stroke="#0000ff" stroke-width="1.05"/>
<rect x="178.53" y="325.15" width="3.40" height="3.70" fill="none" stroke="#0000ff" stroke-width="1.05"/>
<rect x="186.83" y="403.15" width="3.40" height="3.70" fill="none" stroke="#0000ff" stroke-width="1.05"/>
<rect x="195.13" y="333.75" width="3.40" height="3.70" fill="none" stroke="#0000ff" stroke-width="1.05"/>
<rect x="203.43" y="395.35" width="3.40" height="3.70" fill="none" stroke="#0000ff" stroke-width="1.05"/>
<rect x="211.74" y="431.15" width="3.40" height="3.70" fill="none" stroke="#0000ff" stroke-width="1.05"/>
<rect x="220.04" y="344.55" width="3.40" height="3.70" fill="none" stroke="#0000ff" stroke-width="1.05"/>
<rect x="228.34" y="388.55" width="3.40" height="3.70" fill="none" stroke="#0000ff" stroke-width="1.05"/>
<rect x="236.64" y="388.65" width="3.40" height="3.70" fill="none" stroke="#0000ff" stroke-width="1.05"/>
<rect x="244.94" y="416.15" width="3.40" height="3.70" fill="none" stroke="#0000ff" stroke-width="1.05"/>
<rect x="253.24" y="416.15" width="3.40" height="3.70" fill="none" stroke="#0000ff" stroke-width="1.05"/>
<rect x="261.55" y="358.55" width="3.40" height="3.70" fill="none" stroke="#0000ff" stroke-width="1.05"/>
<rect x="269.85" y="390.45" width="3.40" height="3.70" fill="none" stroke="#0000ff" stroke-width="1.05"/>
<rect x="278.15" y="393.65" width="3.40" height="3.70" fill="none" stroke="#0000ff" stroke-width="1.05"/>
<rect x="286.45" y="394.15" width="3.40" height="3.70" fill="none" stroke="#0000ff" stroke-width="1.05"/>
<rect x="294.75" y="428.15" width="3.40" height="3.70" fill="none" stroke="#0000ff" stroke-width="1.05"/>
<rect x="303.05" y="396.65" width="3.40" height="3.70" fill="none" stroke="#0000ff" stroke-width="1.05"/>
<rect x="311.36" y="374.15" width="3.40" height="3.70" fill="none" stroke="#0000ff" stroke-width="1.05"/>
<rect x="319.66" y="408.95" width="3.40" height="3.70" fill="none" stroke="#0000ff" stroke-width="1.05"/>
<rect x="327.96" y="481.55" width="3.40" height="3.70" fill="none" stroke="#0000ff" stroke-width="1.05"/>
<rect x="336.26" y="357.35" width="3.40" height="3.70" fill="none" stroke="#0000ff" stroke-width="1.05"/>
<rect x="344.56" y="354.95" width="3.40" height="3.70" fill="none" stroke="#0000ff" stroke-width="1.05"/>
<rect x="352.86" y="396.65" width="3.40" height="3.70" fill="none" stroke="#0000ff" stroke-width="1.05"/>
<rect x="361.17" y="423.65" width="3.40" height="3.70" fill="none" stroke="#0000ff" stroke-width="1.05"/>
<rect x="369.47" y="456.15" width="3.40" height="3.70" fill="none" stroke="#0000ff" stroke-width="1.05"/>
<rect x="377.77" y="380.55" width="3.40" height="3.70" fill="none" stroke="#0000ff" stroke-width="1.05"/>
<rect x="386.07" y="366.15" width="3.40" height="3.70" fill="none" stroke="#0000ff" stroke-width="1.05"/>
<rect x="394.37" y="364.55" width="3.40" height="3.70" fill="none" stroke="#0000ff" stroke-width="1.05"/>
<rect x="402.67" y="361.55" width="3.40" height="3.70" fill="none" stroke="#0000ff" stroke-width="1.05"/>
<rect x="410.98" y="382.15" width="3.40" height="3.70" fill="none" stroke="#0000ff" stroke-width="1.05"/>
<rect x="419.28" y="362.15" width="3.40" height="3.70" fill="none" stroke="#0000ff" stroke-width="1.05"/>
<rect x="427.58" y="374.75" width="3.40" height="3.70" fill="none" stroke="#0000ff" stroke-width="1.05"/>
<rect x="435.88" y="393.65" width="3.40" height="3.70" fill="none" stroke="#0000ff" stroke-width="1.05"/>
<rect x="444.18" y="407.65" width="3.40" height="3.70" fill="none" stroke="#0000ff" stroke-width="1.05"/>
<rect x="452.48" y="421.75" width="3.40" height="3.70" fill="none" stroke="#0000ff" stroke-width="1.05"/>
<rect x="460.79" y="389.65" width="3.40" height="3.70" fill="none" stroke="#0000ff" stroke-width="1.05"/>
<rect x="469.09" y="347.15" width="3.40" height="3.70" fill="none" stroke="#0000ff" stroke-width="1.05"/>
<rect x="477.39" y="328.15" width="3.40" height="3.70" fill="none" stroke="#0000ff" stroke-width="1.05"/>
<rect x="485.69" y="373.75" width="3.40" height="3.70" fill="none" stroke="#0000ff" stroke-width="1.05"/>
<rect x="493.99" y="385.55" width="3.40" height="3.70" fill="none" stroke="#0000ff" stroke-width="1.05"/>
<rect x="502.29" y="356.75" width="3.40" height="3.70" fill="none" stroke="#0000ff" stroke-width="1.05"/>
<rect x="510.60" y="396.15" width="3.40" height="3.70" fill="none" stroke="#0000ff" stroke-width="1.05"/>
<rect x="518.90" y="465.55" width="3.40" height="3.70" fill="none" stroke="#0000ff" stroke-width="1.05"/>
<rect x="527.20" y="401.35" width="3.40" height="3.70" fill="none" stroke="#0000ff" stroke-width="1.05"/>
<rect x="535.50" y="368.55" width="3.40" height="3.70" fill="none" stroke="#0000ff" stroke-width="1.05"/>
</g>
<rect x="39.1" y="278.1" width="498.10" height="207.80" fill="none" stroke="#262626" stroke-width="1.2"/>
<text transform="translate(35.50 282.10) scale(0.86 1)" text-anchor="end" font-size="9.3" fill="#262626">1800</text>
<path d="M39.1 301.19h5M537.2 301.19h-5" stroke="#262626" stroke-width="1"/>
<text transform="translate(35.50 305.19) scale(0.86 1)" text-anchor="end" font-size="9.3" fill="#262626">1700</text>
<path d="M39.1 324.28h5M537.2 324.28h-5" stroke="#262626" stroke-width="1"/>
<text transform="translate(35.50 328.28) scale(0.86 1)" text-anchor="end" font-size="9.3" fill="#262626">1600</text>
<path d="M39.1 347.37h5M537.2 347.37h-5" stroke="#262626" stroke-width="1"/>
<text transform="translate(35.50 351.37) scale(0.86 1)" text-anchor="end" font-size="9.3" fill="#262626">1500</text>
<path d="M39.1 370.46h5M537.2 370.46h-5" stroke="#262626" stroke-width="1"/>
<text transform="translate(35.50 374.46) scale(0.86 1)" text-anchor="end" font-size="9.3" fill="#262626">1400</text>
<path d="M39.1 393.54h5M537.2 393.54h-5" stroke="#262626" stroke-width="1"/>
<text transform="translate(35.50 397.54) scale(0.86 1)" text-anchor="end" font-size="9.3" fill="#262626">1300</text>
<path d="M39.1 416.63h5M537.2 416.63h-5" stroke="#262626" stroke-width="1"/>
<text transform="translate(35.50 420.63) scale(0.86 1)" text-anchor="end" font-size="9.3" fill="#262626">1200</text>
<path d="M39.1 439.72h5M537.2 439.72h-5" stroke="#262626" stroke-width="1"/>
<text transform="translate(35.50 443.72) scale(0.86 1)" text-anchor="end" font-size="9.3" fill="#262626">1100</text>
<path d="M39.1 462.81h5M537.2 462.81h-5" stroke="#262626" stroke-width="1"/>
<text transform="translate(35.50 466.81) scale(0.86 1)" text-anchor="end" font-size="9.3" fill="#262626">1000</text>
<text transform="translate(35.50 489.90) scale(0.86 1)" text-anchor="end" font-size="9.3" fill="#262626">900</text>
<text transform="translate(39.10 498.10) scale(0.86 1)" text-anchor="middle" font-size="9.3" fill="#262626">19:00</text>
<path d="M122.12 485.9v-5M122.12 278.1v5" stroke="#262626" stroke-width="1"/>
<text transform="translate(122.12 498.10) scale(0.86 1)" text-anchor="middle" font-size="9.3" fill="#262626">19:10</text>
<path d="M205.13 485.9v-5M205.13 278.1v5" stroke="#262626" stroke-width="1"/>
<text transform="translate(205.13 498.10) scale(0.86 1)" text-anchor="middle" font-size="9.3" fill="#262626">19:20</text>
<path d="M288.15 485.9v-5M288.15 278.1v5" stroke="#262626" stroke-width="1"/>
<text transform="translate(288.15 498.10) scale(0.86 1)" text-anchor="middle" font-size="9.3" fill="#262626">19:30</text>
<path d="M371.17 485.9v-5M371.17 278.1v5" stroke="#262626" stroke-width="1"/>
<text transform="translate(371.17 498.10) scale(0.86 1)" text-anchor="middle" font-size="9.3" fill="#262626">19:40</text>
<path d="M454.18 485.9v-5M454.18 278.1v5" stroke="#262626" stroke-width="1"/>
<text transform="translate(454.18 498.10) scale(0.86 1)" text-anchor="middle" font-size="9.3" fill="#262626">19:50</text>
<text transform="translate(537.20 498.10) scale(0.86 1)" text-anchor="middle" font-size="9.3" fill="#262626">20:00</text>
<text transform="translate(288.15 511.30) scale(0.86 1)" text-anchor="middle" font-size="10.2" fill="#262626">t</text>
<text transform="translate(11.2 382.00) scale(0.86 1) rotate(-90)" text-anchor="middle" font-size="10.2" fill="#262626">AGG(kw)</text>
<rect x="400.7" y="284.50" width="129.50" height="30.60" fill="#fff" stroke="#262626" stroke-width="0.9"/>
<path d="M403.3 291.0H427.8" fill="none" stroke="#ff0000" stroke-width="0.75" stroke-dasharray="1 1"/>
<path d="M413.95 289.25L417.15 292.75M413.95 292.75L417.15 289.25" stroke="#ff0000" stroke-width="1.05" fill="none"/>
<text transform="translate(430.40 294.40) scale(0.86 1)" text-anchor="start" font-size="8.6" fill="#111">Original Aggregation</text>
<path d="M403.3 300.4H427.8" fill="none" stroke="#000" stroke-width="1.15"/>
<ellipse cx="415.55" cy="300.40" rx="2.1" ry="2.35" fill="#000"/>
<text transform="translate(430.40 303.80) scale(0.86 1)" text-anchor="start" font-size="8.6" fill="#111">FTA[20] Aggregation</text>
<path d="M403.3 309.8H427.8" fill="none" stroke="#0000ff" stroke-width="1.45"/>
<rect x="413.85" y="307.95" width="3.40" height="3.70" fill="none" stroke="#0000ff" stroke-width="1.05"/>
<text transform="translate(430.40 313.20) scale(0.86 1)" text-anchor="start" font-size="8.6" fill="#111">Proposed Scheme(DPP-UFT)</text>
<text y="256.2" class="cp"><tspan x="226.3" font-weight="bold">(c)</tspan><tspan x="241.4">ε</tspan><tspan x="248.2">=</tspan><tspan x="256.0">0.5,</tspan><tspan x="287.6">′</tspan><tspan x="289.4">/</tspan><tspan x="303.7">=</tspan><tspan x="310.0">0.8</tspan><tspan x="324.7">.</tspan></text><text transform="translate(279.4 256.2) scale(1.3 1)" class="cp" font-style="italic" style="font-size:12.5px">α</text><text transform="translate(293.9 256.2) scale(1.3 1)" class="cp" font-style="italic" style="font-size:12.5px">α</text>
<text y="527.0" class="cp"><tspan x="224.9" font-weight="bold">(d)</tspan><tspan x="242.4">ε</tspan><tspan x="249.2">=</tspan><tspan x="257.2">0.5,</tspan><tspan x="288.6">′</tspan><tspan x="290.4">/</tspan><tspan x="304.1">=</tspan><tspan x="312.0">0.6</tspan><tspan x="325.7">.</tspan></text><text transform="translate(280.4 527.0) scale(1.3 1)" class="cp" font-style="italic" style="font-size:12.5px">α</text><text transform="translate(295.1 527.0) scale(1.3 1)" class="cp" font-style="italic" style="font-size:12.5px">α</text>
</svg>
</body></html>
